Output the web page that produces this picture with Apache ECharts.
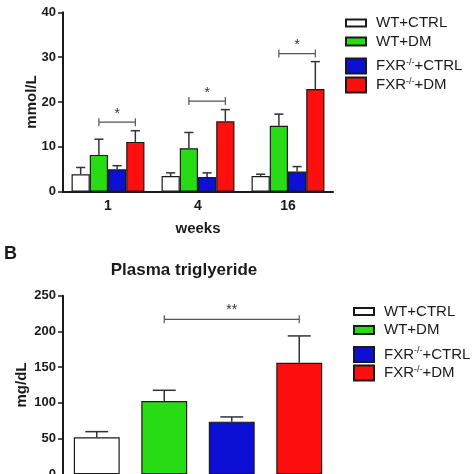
<!DOCTYPE html>
<html lang="en">
<head>
    <meta charset="UTF-8">
    <title>Serum glucose and plasma triglyceride</title>
    <script src="https://cdn.jsdelivr.net/npm/echarts@6/dist/echarts.min.js"></script>
    <style>
        html, body { margin: 0; padding: 0; background: #fff; }
        #chart { width: 474px; height: 474px; }
    </style>
</head>
<body>
<div id="chart"></div>
<script>
    // panel A: glucose (mmol/L) by week
    const weeks = ['1', '4', '16'];
    const groups = ['WT+CTRL', 'WT+DM', 'FXR-/-+CTRL', 'FXR-/-+DM'];
    const colors = ['#ffffff', '#27dc14', '#0b10d4', '#ff0e0e'];

    const wtCtrlMean = [3.9, 3.5, 3.5];
    const wtCtrlSd = [1.5, 0.7, 0.4];
    const wtDmMean = [8.2, 9.7, 14.7];
    const wtDmSd = [3.5, 3.5, 2.6];
    const fxrCtrlMean = [5.0, 3.3, 4.5];
    const fxrCtrlSd = [0.8, 0.9, 1.1];
    const fxrDmMean = [11.1, 15.7, 22.9];
    const fxrDmSd = [2.5, 2.6, 6.1];

    const gluTicks = [0, 10, 20, 30, 40];
    // [week index, bracket height, label] - bracket WT+DM vs FXR+DM
    const gluSig = [[0, 15.5, '*'], [1, 20.2, '*'], [2, 30.8, '*']];

    // panel B: plasma triglyceride (mg/dL)
    const tgMean = [51.8, 102.7, 73.7, 156];
    const tgSd = [7.9, 14.9, 6.6, 37.7];
    const tgTicks = [0, 50, 100, 150, 200, 250];
    // [from group, to group, height, label]
    const tgSig = [[1, 3, 217, '**']];

    const gluMeans = [wtCtrlMean, wtDmMean, fxrCtrlMean, fxrDmMean];
    const gluSds = [wtCtrlSd, wtDmSd, fxrCtrlSd, fxrDmSd];

    const font = "'Liberation Sans', Arial, sans-serif";
    const ink = '#1a1a1a';
    const errColor = '#333';
    const sigColor = '#555';
    const catGap = 0.19;
    const tgBarRatio = 0.68;

    function legendLabel(name) {
        const parts = name.split('-/-');
        return parts.length > 1 ? `{n|${parts[0]}}{s|-/-}{n|${parts[1]}}` : `{n|${name}}`;
    }

    function makeLegends(left, tops, heights) {
        return groups.map((g, i) => ({
            data: [g],
            orient: 'vertical',
            left: left,
            top: tops[i],
            padding: 0,
            itemWidth: 20,
            itemHeight: heights[i],
            selectedMode: false,
            icon: 'rect',
            formatter: legendLabel,
            textStyle: {
                padding: [0, 0, 0, 5],
                rich: {
                    n: { fontFamily: font, fontSize: 15, lineHeight: 16, color: ink },
                    s: { fontFamily: font, fontSize: 9, verticalAlign: 'top', color: ink }
                }
            }
        }));
    }

    function valueAxis(gridIndex, max, interval, name, nameGap) {
        return {
            type: 'value',
            gridIndex: gridIndex,
            min: 0,
            max: max,
            interval: interval,
            name: name,
            nameLocation: 'middle',
            nameGap: nameGap,
            nameMoveOverlap: false,
            nameTextStyle: { fontFamily: font, fontSize: 15, fontWeight: 'bold', color: ink },
            axisLine: { show: true, lineStyle: { color: ink, width: 2 } },
            axisTick: { show: true, length: 5, lineStyle: { color: ink, width: 1.5 } },
            axisLabel: { margin: 7, fontFamily: font, fontSize: 13, fontWeight: 'bold', color: ink },
            splitLine: { show: false }
        };
    }

    function catAxis(gridIndex, data) {
        return {
            type: 'category',
            gridIndex: gridIndex,
            data: data,
            axisLine: { lineStyle: { color: ink, width: 2 } },
            axisTick: { alignWithLabel: true, length: 5, lineStyle: { color: ink, width: 1.5 } },
            axisLabel: { margin: 7, fontFamily: font, fontSize: 14, fontWeight: 'bold', color: ink }
        };
    }

    const series = [];

    // glucose bars
    groups.forEach((g, i) => {
        series.push({
            name: g,
            type: 'bar',
            xAxisIndex: 0,
            yAxisIndex: 0,
            data: gluMeans[i],
            barGap: 0,
            barCategoryGap: (catGap * 100) + '%',
            itemStyle: { color: colors[i], borderColor: ink, borderWidth: 1.2 },
            emphasis: { disabled: true }
        });
    });

    // glucose error bars: [week, top, mean, group]
    const gluErr = [];
    gluMeans.forEach((m, g) => m.forEach((v, c) => gluErr.push([c, v + gluSds[g][c], v, g])));

    series.push({
        type: 'custom',
        xAxisIndex: 0,
        yAxisIndex: 0,
        z: 5,
        silent: true,
        data: gluErr,
        encode: { x: 0, y: 1 },
        renderItem: function (params, api) {
            const band = api.size([1, 0])[0];
            const barW = band * (1 - catGap) / 4;
            const cx = api.coord([api.value(0), 0])[0] + (api.value(3) - 1.5) * barW;
            const yTop = api.coord([0, api.value(1)])[1];
            const yBase = api.coord([0, api.value(2)])[1];
            const cap = barW / 4;
            const st = { stroke: errColor, lineWidth: 1.5 };
            return {
                type: 'group',
                children: [
                    { type: 'line', shape: { x1: cx, y1: yBase, x2: cx, y2: yTop }, style: st },
                    { type: 'line', shape: { x1: cx - cap, y1: yTop, x2: cx + cap, y2: yTop }, style: st }
                ]
            };
        }
    });

    // glucose significance brackets
    series.push({
        type: 'custom',
        xAxisIndex: 0,
        yAxisIndex: 0,
        z: 5,
        silent: true,
        data: gluSig.map(d => [d[0], d[1]]),
        encode: { x: 0, y: 1 },
        renderItem: function (params, api) {
            const band = api.size([1, 0])[0];
            const barW = band * (1 - catGap) / 4;
            const c = api.coord([api.value(0), api.value(1)]);
            const x1 = c[0] - 0.5 * barW;
            const x2 = c[0] + 1.5 * barW;
            const y = c[1];
            const st = { stroke: sigColor, lineWidth: 1.2 };
            return {
                type: 'group',
                children: [
                    { type: 'line', shape: { x1: x1, y1: y, x2: x2, y2: y }, style: st },
                    { type: 'line', shape: { x1: x1, y1: y - 4, x2: x1, y2: y + 4 }, style: st },
                    { type: 'line', shape: { x1: x2, y1: y - 4, x2: x2, y2: y + 4 }, style: st },
                    {
                        type: 'text',
                        style: {
                            text: gluSig[params.dataIndex][2], x: (x1 + x2) / 2, y: y - 1,
                            align: 'center', verticalAlign: 'bottom',
                            fontFamily: font, fontSize: 14, fill: '#333'
                        }
                    }
                ]
            };
        }
    });

    // triglyceride bars, one series per group so the legend matches
    groups.forEach((g, i) => {
        series.push({
            name: g,
            type: 'bar',
            xAxisIndex: 1,
            yAxisIndex: 1,
            data: tgMean.map((v, j) => (j === i ? v : '-')),
            barGap: '-100%',
            barWidth: (tgBarRatio * 100) + '%',
            itemStyle: { color: colors[i], borderColor: ink, borderWidth: 1.2 },
            emphasis: { disabled: true }
        });
    });

    series.push({
        type: 'custom',
        xAxisIndex: 1,
        yAxisIndex: 1,
        z: 5,
        silent: true,
        data: tgMean.map((v, j) => [j, v + tgSd[j], v]),
        encode: { x: 0, y: 1 },
        renderItem: function (params, api) {
            const band = api.size([1, 0])[0];
            const barW = band * tgBarRatio;
            const cx = api.coord([api.value(0), 0])[0];
            const yTop = api.coord([0, api.value(1)])[1];
            const yBase = api.coord([0, api.value(2)])[1];
            const cap = barW / 4;
            const st = { stroke: errColor, lineWidth: 1.5 };
            return {
                type: 'group',
                children: [
                    { type: 'line', shape: { x1: cx, y1: yBase, x2: cx, y2: yTop }, style: st },
                    { type: 'line', shape: { x1: cx - cap, y1: yTop, x2: cx + cap, y2: yTop }, style: st }
                ]
            };
        }
    });

    series.push({
        type: 'custom',
        xAxisIndex: 1,
        yAxisIndex: 1,
        z: 5,
        silent: true,
        data: tgSig.map(d => [d[0], d[2], d[1]]),
        encode: { x: 0, y: 1 },
        renderItem: function (params, api) {
            const a = api.coord([api.value(0), api.value(1)]);
            const b = api.coord([api.value(2), api.value(1)]);
            const y = a[1];
            const st = { stroke: sigColor, lineWidth: 1.2 };
            return {
                type: 'group',
                children: [
                    { type: 'line', shape: { x1: a[0], y1: y, x2: b[0], y2: y }, style: st },
                    { type: 'line', shape: { x1: a[0], y1: y - 4, x2: a[0], y2: y + 4 }, style: st },
                    { type: 'line', shape: { x1: b[0], y1: y - 4, x2: b[0], y2: y + 4 }, style: st },
                    {
                        type: 'text',
                        style: {
                            text: tgSig[params.dataIndex][3], x: (a[0] + b[0]) / 2, y: y - 2,
                            align: 'center', verticalAlign: 'bottom',
                            fontFamily: font, fontSize: 14, fill: '#333'
                        }
                    }
                ]
            };
        }
    });

    const chart = echarts.init(document.getElementById('chart'));
    const xA = catAxis(0, weeks);
    xA.name = 'weeks';
    xA.nameLocation = 'middle';
    xA.nameGap = 30;
    xA.nameMoveOverlap = false;
    xA.nameTextStyle = { fontFamily: font, fontSize: 15, fontWeight: 'bold', color: ink };

    chart.setOption({
        animation: false,
        title: [
            { text: 'B', left: 4, top: 245, padding: 0, textStyle: { fontFamily: font, fontSize: 18, fontWeight: 'bold', color: ink } },
            { text: 'Plasma triglyeride', left: 184, top: 262, textAlign: 'center', padding: 0, textStyle: { fontFamily: font, fontSize: 17, fontWeight: 'bold', color: ink } }
        ],
        legend: makeLegends(345, [15.5, 34, 57.5, 76.5], [7, 8, 15, 15])
            .concat(makeLegends(353, [304, 322.5, 346, 364.5], [7, 8, 15, 15])),
        grid: [
            { left: 63, top: 12.3, width: 270, height: 179.4, outerBoundsMode: 'none' },
            { left: 63, top: 295.7, width: 270, height: 178.6, outerBoundsMode: 'none' }
        ],
        xAxis: [xA, catAxis(1, groups)],
        yAxis: [
            valueAxis(0, gluTicks[gluTicks.length - 1], gluTicks[1] - gluTicks[0], 'mmol/L', 24),
            valueAxis(1, tgTicks[tgTicks.length - 1], tgTicks[1] - tgTicks[0], 'mg/dL', 34)
        ],
        series: series
    });
</script>
</body>
</html>
